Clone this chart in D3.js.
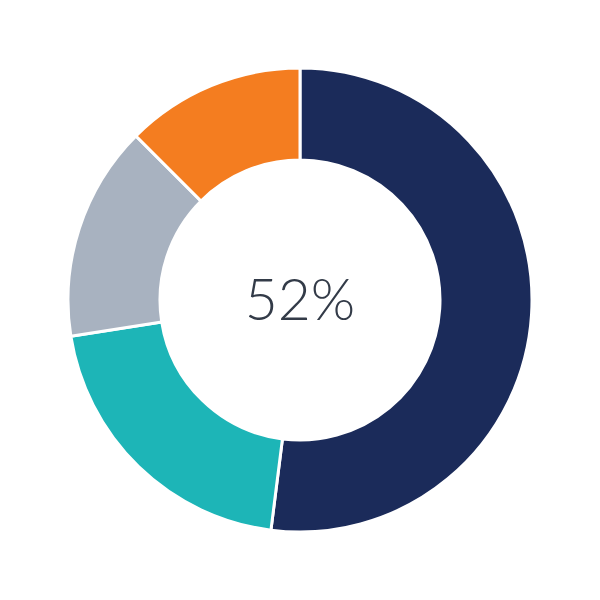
<!DOCTYPE html>
<html>
<head>
<meta charset="UTF-8">
<style>
  body { margin: 0; background: #fff; }
  svg text { font-family: Lato, "Open Sans", sans-serif; }
</style>
<script src="https://d3js.org/d3.v7.min.js"></script>
</head>
<body>
<svg></svg>
<script>
// data (share of the ring, clockwise from the top)
var categories = ['A', 'B', 'C', 'D'];
var values = [52, 20.5, 15, 12.5];
var colors = ['#1b2b5a', '#1db5b7', '#a8b2c0', '#f47d20'];
var centerLabel = '52%';

var width = 600, height = 600,
    outerR = 232, innerR = 140;

var svg = d3.select('svg')
    .attr('width', width)
    .attr('height', height);

var g = svg.append('g')
    .attr('transform', 'translate(' + width / 2 + ',' + height / 2 + ')');

var pie = d3.pie().sort(null).value(function(d) { return d; });
var arc = d3.arc().innerRadius(innerR).outerRadius(outerR);

var color = d3.scaleOrdinal().domain(categories).range(colors);

g.selectAll('path')
  .data(pie(values))
  .enter().append('path')
    .attr('d', arc)
    .style('fill', function(d, i) { return color(categories[i]); })
    .style('stroke', '#fff')
    .style('stroke-width', 3);

g.append('text')
  .attr('text-anchor', 'middle')
  .attr('dy', '0.35em')
  .style('font-size', '57px')
  .style('font-weight', 300)
  .style('fill', '#333b48')
  .text(centerLabel);
</script>
</body>
</html>
